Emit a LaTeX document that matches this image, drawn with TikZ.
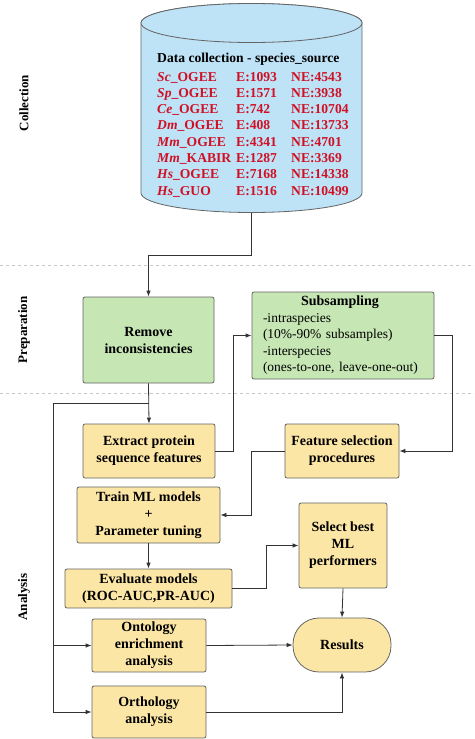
\documentclass[tikz,border=0pt]{standalone}
\usepackage{fontspec}
\usepackage{array}
\setmainfont{Liberation Serif}
\usetikzlibrary{arrows.meta}
\definecolor{dbblue}{RGB}{190,226,246}
\definecolor{prepgreen}{RGB}{198,230,180}
\definecolor{anayellow}{RGB}{252,230,166}
\definecolor{edgegray}{RGB}{100,100,100}
\definecolor{datared}{RGB}{208,16,36}
\begin{document}
\begin{tikzpicture}[x=1pt,y=-1pt,
    font=\fontsize{14}{17}\selectfont,
    procbox/.style={draw=edgegray,line width=0.8pt,rounded corners=2pt,fill=anayellow,
      font=\fontsize{14}{17}\selectfont\bfseries,align=center,inner sep=2pt},
    greenbox/.style={procbox,fill=prepgreen},
    flow/.style={draw=black!80,line width=0.8pt,-{Latex[length=6pt,width=4.5pt]}},
    sep/.style={draw=black!22,dashed,line width=0.8pt},
    sidelabel/.style={rotate=90,font=\fontsize{13}{15}\selectfont\bfseries}]
  \useasboundingbox (0,0) rectangle (474,739);
  % phase separators
  \draw[sep] (0,265) -- (474,265);
  \draw[sep] (0,393) -- (474,393);
  \node[sidelabel] (lcoll) at (24,103) {Collection};
  \node[sidelabel] (lprep) at (24,330) {Preparation};
  \node[sidelabel] (lana) at (24,597) {Analysis};
  % database cylinder
  \path[fill=dbblue,draw=edgegray,line width=0.8pt]
    (141,23) -- (141,193) arc[start angle=180,end angle=0,x radius=110.5,y radius=19.5]
    -- (362,23) arc[start angle=0,end angle=-180,x radius=110.5,y radius=19.5] -- cycle;
  \draw[fill=dbblue,draw=edgegray,line width=0.8pt] (251.5,23) ellipse[x radius=110.5,y radius=19.5];
  \coordinate (dbbot) at (251.5,212.5);
  \node[anchor=base west,inner sep=0pt,font=\fontsize{13.6}{16.3}\selectfont\bfseries] (dbtext) at (157,62)
    {\begin{tabular}[t]{@{}>{\color{datared}}w{l}{79pt}@{}>{\color{datared}}w{l}{55pt}@{}>{\color{datared}}l@{}}
      \multicolumn{3}{@{}l@{}}{Data collection - species\_source}\\[2.7pt]
      \textit{Sc}\_OGEE & E:1093 & NE:4543\\
      \textit{Sp}\_OGEE & E:1571 & NE:3938\\
      \textit{Ce}\_OGEE & E:742 & NE:10704\\
      \textit{Dm}\_OGEE & E:408 & NE:13733\\
      \textit{Mm}\_OGEE & E:4341 & NE:4701\\
      \textit{Mm}\_KABIR & E:1287 & NE:3369\\
      \textit{Hs}\_OGEE & E:7168 & NE:14338\\
      \textit{Hs}\_GUO & E:1516 & NE:10499
    \end{tabular}};
  % preparation
  \node[greenbox,minimum width=131pt,minimum height=86pt] (remove) at (148.5,340) {Remove\\inconsistencies};
  \node[greenbox,minimum width=182pt,minimum height=87pt,text width=160pt,align=left,
    font=\fontsize{13.5}{16.5}\selectfont] (subsamp) at (343,335.5)
    {\makebox[\linewidth]{\fontsize{14}{16.5}\selectfont\bfseries Subsampling\hspace{6pt}}\\-intraspecies\\(10\%-90\% subsamples)\\-interspecies\\(ones-to-one, leave-one-out)};
  % analysis
  \node[procbox,minimum width=132pt,minimum height=54pt] (extract) at (149,451) {Extract protein\\sequence features};
  \node[procbox,minimum width=114pt,minimum height=54pt] (featsel) at (342,451) {Feature selection\\procedures};
  \node[procbox,minimum width=143pt,minimum height=56pt] (train) at (148.5,515) {Train ML models\\+\\Parameter tuning};
  \node[procbox,minimum width=167pt,minimum height=39pt] (evaluate) at (148.5,588.5) {Evaluate models\\(ROC-AUC,PR-AUC)};
  \node[procbox,minimum width=88pt,minimum height=85pt] (select) at (343,545.5) {Select best\\ML\\performers};
  \node[procbox,minimum width=98pt,minimum height=54pt,rounded corners=26pt] (results) at (342,645) {Results};
  \node[procbox,minimum width=114pt,minimum height=53pt] (ontology) at (149,645.5) {Ontology\\enrichment\\analysis};
  \node[procbox,minimum width=114pt,minimum height=52pt] (orthology) at (149,712) {Orthology\\analysis};
  % connectors
  \draw[flow] (dbbot) -- ++(0,42.5) -| (remove.north);
  \draw[flow] (remove.south) -- (extract.north);
  \coordinate (split) at (148.5,403);
  \coordinate (rail) at (53,403);
  \draw[flow] (split) -- (rail) |- (orthology.west);
  \draw[flow] (rail |- ontology.west) -- (ontology.west);
  \draw[flow] (extract.east) -- ++(18,0) |- (subsamp.west);
  \draw[flow] (subsamp.east) -- ++(18,0) |- (featsel.east);
  \draw[flow] (featsel.west) -- ++(-33,0) |- (train.east);
  \draw[flow] (train.south) -- (evaluate.north);
  \draw[flow] (evaluate.east) -- ++(34,0) |- (select.west);
  \draw[flow] (select.south) -- (results.north);
  \draw[flow] (ontology.east) -- (results.west);
  \draw[flow] (orthology.east) -| (results.south);
\end{tikzpicture}
\end{document}
